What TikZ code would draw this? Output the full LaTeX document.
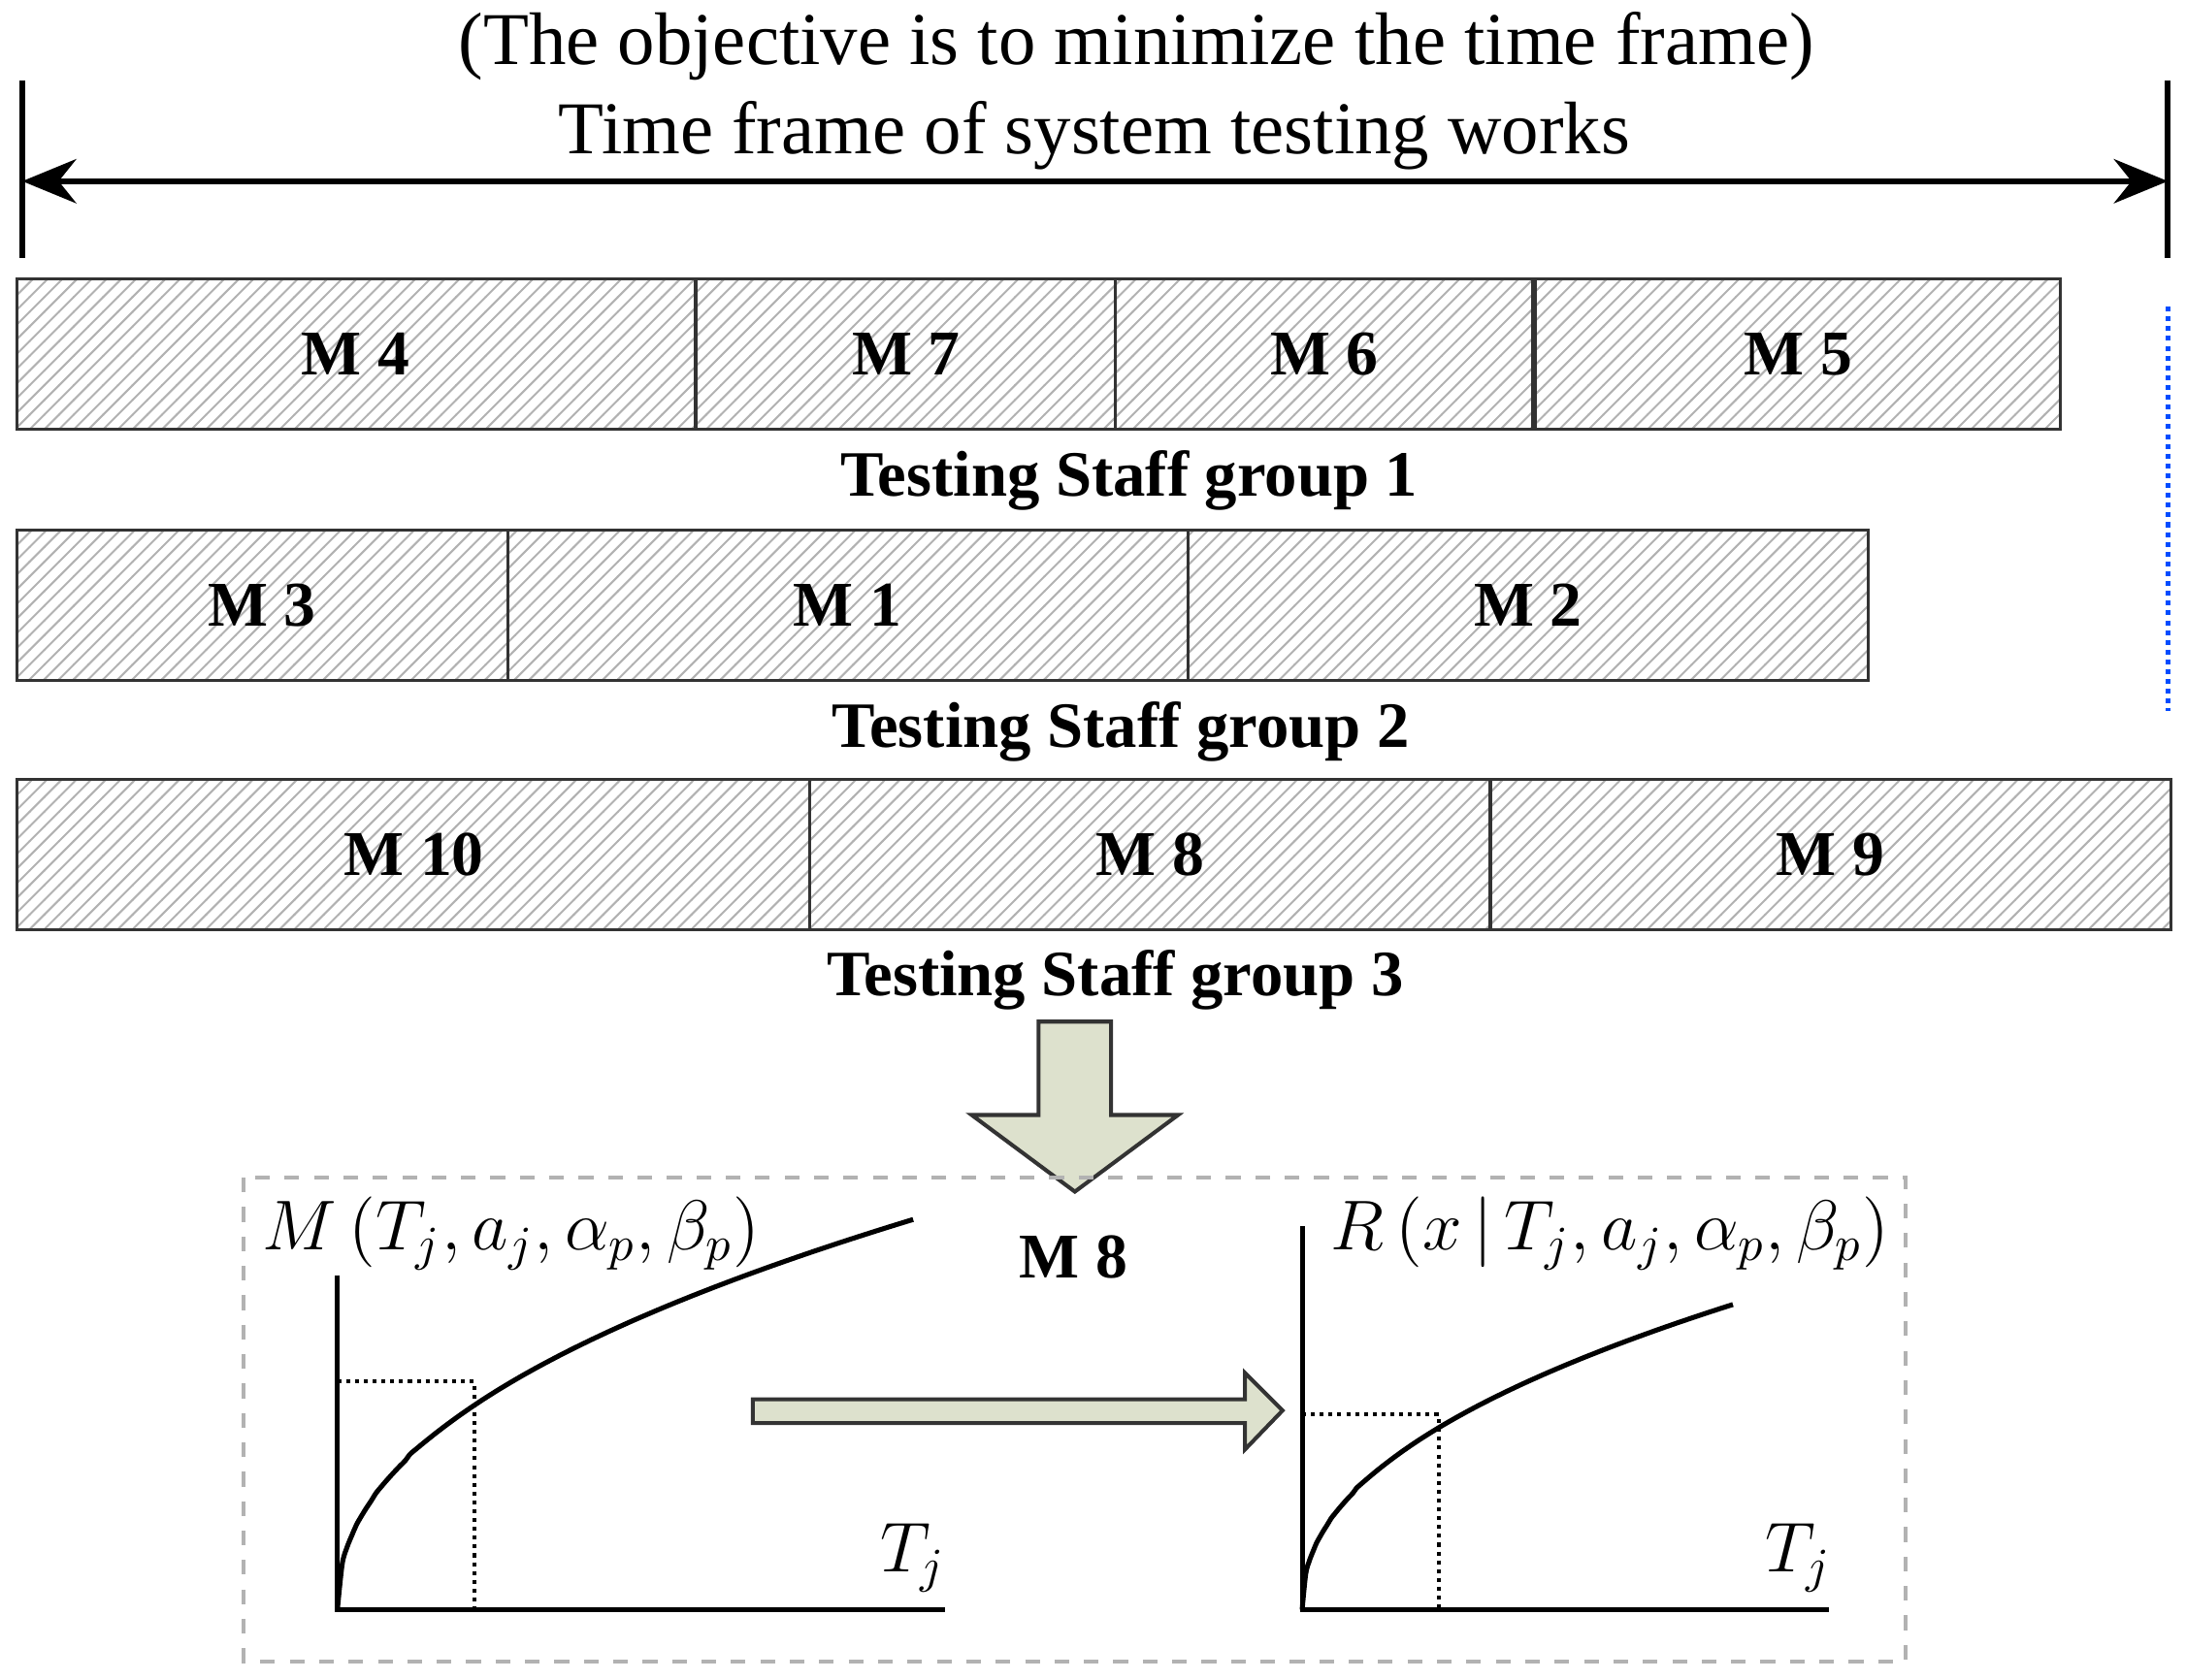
\documentclass[tikz,border=0pt]{standalone}
\usepackage{fontspec}
\setmainfont{Liberation Serif}
\usetikzlibrary{patterns,arrows.meta}
\definecolor{arrfill}{RGB}{221,225,205}
\tikzset{
  mbox/.style={draw=black!80,line width=0.6pt,pattern=north east lines,pattern color=black!30},
  mlab/.style={font=\fontsize{13}{15}\selectfont\bfseries},
  glab/.style={font=\fontsize{13.2}{15}\selectfont\bfseries},
  mathlab/.style={font=\fontsize{14}{16}\selectfont},
  axis/.style={line width=1pt},
  guide/.style={densely dotted,line width=0.8pt},
}
\begin{document}
\begin{tikzpicture}[x=0.01cm,y=-0.01cm]
\useasboundingbox (0,0) rectangle (1568,1205);
% title
\node[font=\fontsize{15.2}{18}\selectfont] (t1) at (815,33) {(The objective is to minimize the time frame)};
\node[font=\fontsize{15.2}{18}\selectfont] (t2) at (785,97) {Time frame of system testing works};
\coordinate (la) at (16,58); \coordinate (lb) at (16,185);
\coordinate (ra) at (1555,58); \coordinate (rb) at (1555,185);
\draw[line width=1.2pt] (la) -- (lb);
\draw[line width=1.2pt] (ra) -- (rb);
\coordinate (al) at (16,130); \coordinate (ar) at (1555,130);
\draw[line width=1.2pt,{Stealth[length=11pt,width=9pt]}-{Stealth[length=11pt,width=9pt]}] (al) -- (ar);
% row 1
\draw[mbox] (12,200) rectangle (499,308); \node[mlab] (m4) at (255,254) {M 4};
\draw[mbox] (499,200) rectangle (800,308); \node[mlab] (m7) at (650,254) {M 7};
\draw[mbox] (800,200) rectangle (1099,308); \node[mlab] (m6) at (950,254) {M 6};
\draw[mbox] (1101,200) rectangle (1478,308); \node[mlab] (m5) at (1290,254) {M 5};
\node[glab] (g1) at (810,345) {Testing Staff group 1};
\coordinate (da) at (1555,220); \coordinate (db) at (1555,510);
\draw[blue!70!cyan,densely dotted,line width=1pt] (da) -- (db);
% row 2
\draw[mbox] (12,380) rectangle (364,488); \node[mlab] (m3) at (188,434) {M 3};
\draw[mbox] (364,380) rectangle (852,488); \node[mlab] (m1) at (608,434) {M 1};
\draw[mbox] (852,380) rectangle (1340,488); \node[mlab] (m2) at (1096,434) {M 2};
\node[glab] (g2) at (804,525) {Testing Staff group 2};
% row 3
\draw[mbox] (12,559) rectangle (581,667); \node[mlab] (m10) at (297,613) {M 10};
\draw[mbox] (581,559) rectangle (1069,667); \node[mlab] (m8) at (825,613) {M 8};
\draw[mbox] (1069,559) rectangle (1557,667); \node[mlab] (m9) at (1313,613) {M 9};
\node[glab] (g3) at (800,703) {Testing Staff group 3};
% down arrow
\draw[fill=arrfill,draw=black!80,line width=0.8pt] (745,733) -- (797,733) -- (797,800) -- (845,800) -- (771,855) -- (697,800) -- (745,800) -- cycle;
% dashed box
\draw[black!30,dashed,line width=0.8pt] (175,845) rectangle (1367,1192);
\node[mlab] (m8b) at (770,902) {M 8};
% left plot
\draw[axis] (242,915) -- (242,1155) -- (678,1155);
\draw[line width=1pt] plot[domain=0:413,samples=120,smooth] ({242+\x},{1155-280*(\x/413)^0.45});
\draw[guide] (242,991) -- (340,991) -- (340,1155);
\node[mathlab,anchor=west] (ml) at (176,885) {$M\left(T_j,a_j,\alpha_p,\beta_p\right)$};
\node[mathlab] (tj1) at (655,1118) {$T_j$};
% right arrow
\draw[fill=arrfill,draw=black!80,line width=0.8pt] (540,1004) -- (893,1004) -- (893,985) -- (920,1012) -- (893,1040) -- (893,1021) -- (540,1021) -- cycle;
% right plot
\draw[axis] (934,880) -- (934,1155) -- (1312,1155);
\draw[line width=1pt] plot[domain=0:309,samples=120,smooth] ({934+\x},{1155-219*(\x/309)^0.45});
\draw[guide] (934,1015) -- (1032,1015) -- (1032,1155);
\node[mathlab,anchor=west] (rl) at (942,885) {$R\left(x\,|\,T_j,a_j,\alpha_p,\beta_p\right)$};
\node[mathlab] (tj2) at (1290,1118) {$T_j$};
\end{tikzpicture}
\end{document}
